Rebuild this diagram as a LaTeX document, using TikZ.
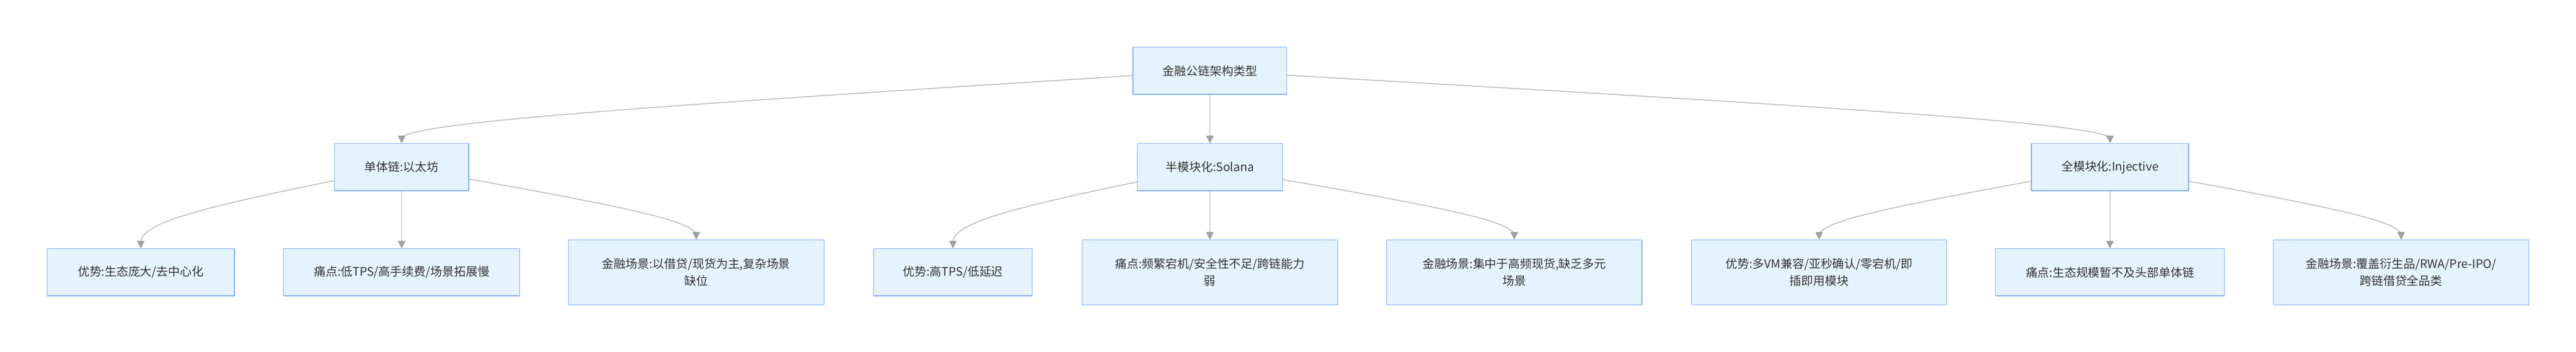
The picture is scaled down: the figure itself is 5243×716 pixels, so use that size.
\documentclass[tikz,border=0pt]{standalone}
\usepackage{fontspec}
\setmainfont{Noto Sans CJK SC}
\usetikzlibrary{calc,arrows.meta}
\pgfdeclarelayer{background}
\pgfsetlayers{background,main}
\definecolor{boxfill}{HTML}{E4F3FD}
\definecolor{boxdraw}{HTML}{7BA7F6}
\definecolor{txt}{HTML}{333333}
\definecolor{edgec}{HTML}{A8A8A8}
\definecolor{arrf}{HTML}{A3A3A3}
\definecolor{arrd}{HTML}{8C8C8C}
\newcommand{\basisedge}[3]{%
  \coordinate (bP) at (#1.center);
  \coordinate (bT) at (#2.north);
  \coordinate (bY) at (0,#3);
  \coordinate (bM) at (bT |- bY);
  \draw[edge] (bP) -- ($(bP)!1/6!(bM)$)
    .. controls ($(bP)!1/3!(bM)$) and ($(bP)!2/3!(bM)$) ..
    ($0.166667*(bP)+0.666667*(bM)+0.166667*(bT)$)
    .. controls ($(bM)!1/3!(bT)$) and ($(bM)!2/3!(bT)$) ..
    ($(bM)!5/6!(bT)$) -- (bT);
}
\begin{document}
\begin{tikzpicture}[x=0.5pt,y=-0.5pt,
  box/.style={draw=boxdraw, fill=boxfill, line width=0.75pt, text=txt,
    align=center, inner sep=0pt, font=\fontsize{12}{17.5}\selectfont},
  edge/.style={draw=edgec, line width=0.7pt,
    -{Triangle[width=7.5pt,length=7.5pt,fill=arrf,color=arrd,line width=0.4pt]}}]
\useasboundingbox (0,0) rectangle (5243,716);

\node[box, minimum width=156.5pt, minimum height=48pt] (root) at (2462.5,144) {金融公链架构类型};

\node[box, minimum width=136.5pt, minimum height=48pt] (mid1) at (817.5,340) {单体链:以太坊};
\node[box, minimum width=148pt, minimum height=48pt] (mid2) at (2462.5,340) {半模块化:Solana};
\node[box, minimum width=160pt, minimum height=48pt] (mid3) at (4294.5,340) {全模块化:Injective};

\node[box, minimum width=190.5pt, minimum height=48pt] (b1) at (286.5,554) {优势:生态庞大/去中心化};
\node[box, minimum width=240pt, minimum height=48pt] (b2) at (817.5,554) {痛点:低TPS/高手续费/场景拓展慢};
\node[box, minimum width=260pt, minimum height=66pt] (b3) at (1417,554) {金融场景:以借贷/现货为主,复杂场景\\缺位};
\node[box, minimum width=161.5pt, minimum height=48pt] (b4) at (1939.5,554) {优势:高TPS/低延迟};
\node[box, minimum width=260pt, minimum height=66pt] (b5) at (2462.5,554) {痛点:频繁宕机/安全性不足/跨链能力\\弱};
\node[box, minimum width=260pt, minimum height=66pt] (b6) at (3082,554) {金融场景:集中于高频现货,缺乏多元\\场景};
\node[box, minimum width=259.5pt, minimum height=66pt] (b7) at (3702.5,554) {优势:多VM兼容/亚秒确认/零宕机/即\\插即用模块};
\node[box, minimum width=232.5pt, minimum height=48pt] (b8) at (4294.5,554) {痛点:生态规模暂不及头部单体链};
\node[box, minimum width=260pt, minimum height=66pt] (b9) at (4887,554) {金融场景:覆盖衍生品/RWA/Pre-IPO/\\跨链借贷全品类};

\begin{pgfonlayer}{background}
  \basisedge{root}{mid1}{248}
  \draw[edge] (root) -- (mid2);
  \basisedge{root}{mid3}{250}
  \basisedge{mid1}{b1}{446}
  \draw[edge] (mid1) -- (b2);
  \basisedge{mid1}{b3}{446}
  \basisedge{mid2}{b4}{446}
  \draw[edge] (mid2) -- (b5);
  \basisedge{mid2}{b6}{446}
  \basisedge{mid3}{b7}{446}
  \draw[edge] (mid3) -- (b8);
  \basisedge{mid3}{b9}{446}
\end{pgfonlayer}
\end{tikzpicture}
\end{document}
